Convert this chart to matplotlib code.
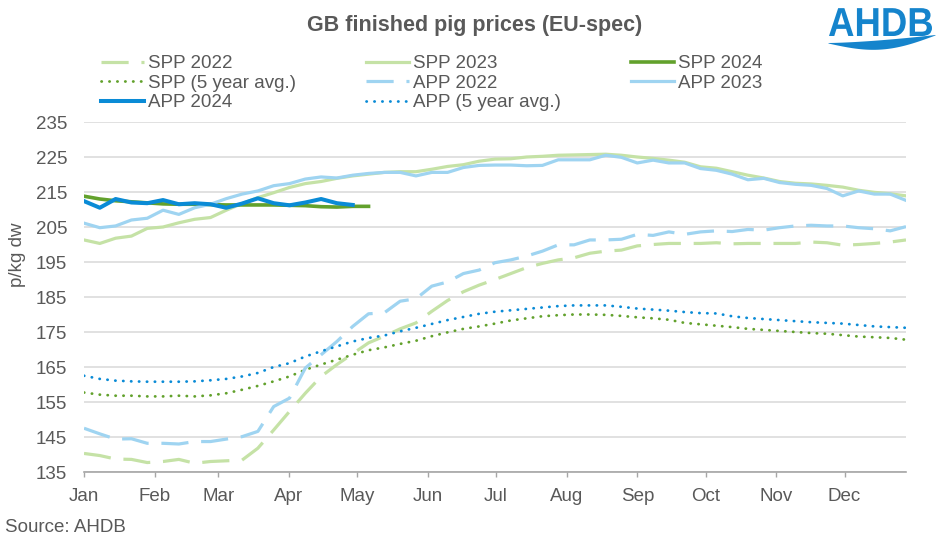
import matplotlib
matplotlib.use("Agg")
import matplotlib.pyplot as plt
import numpy as np
from matplotlib.textpath import TextPath
from matplotlib.patches import PathPatch
from matplotlib.font_manager import FontProperties
from matplotlib.transforms import Affine2D

plt.rcParams["font.family"] = ["Liberation Sans", "DejaVu Sans"]

# weekly prices, p/kg dw
months = ["Jan", "Feb", "Mar", "Apr", "May", "Jun",
          "Jul", "Aug", "Sep", "Oct", "Nov", "Dec"]
month_start_doy = [0, 31, 59, 90, 120, 151, 181, 212, 243, 273, 304, 334]

spp_2022 = [140.3, 139.7, 138.7, 138.6, 137.7, 138.0, 138.6, 137.5, 138.0, 138.2,
            138.4, 141.8, 147.0, 152.3, 157.5, 162.3, 165.7, 168.8, 171.9, 173.8,
            175.9, 177.6, 180.9, 184.0, 186.5, 188.4, 190.0, 191.7, 193.4, 194.6,
            195.6, 196.2, 197.5, 198.1, 198.4, 199.6, 200.0, 200.3, 200.3, 200.3,
            200.5, 200.2, 200.3, 200.3, 200.3, 200.3, 200.7, 200.5, 199.8, 200.0,
            200.3, 200.7, 201.3]
spp_2023 = [201.3, 200.3, 201.8, 202.4, 204.6, 205.0, 206.2, 207.2, 207.7, 209.8,
            211.7, 213.4, 214.8, 216.3, 217.4, 218.0, 218.9, 219.6, 220.1, 220.6,
            220.8, 220.8, 221.5, 222.3, 222.8, 223.8, 224.4, 224.5, 225.0, 225.2,
            225.5, 225.6, 225.7, 225.8, 225.5, 225.0, 224.6, 224.1, 223.5, 222.2,
            221.8, 220.8, 219.8, 219.0, 218.0, 217.5, 217.3, 216.9, 216.4, 215.5,
            214.9, 214.5, 213.9]
spp_2024 = [213.8, 213.0, 212.5, 212.2, 211.9, 211.6, 211.5, 211.5, 211.4, 211.3,
            211.3, 211.3, 211.3, 211.2, 211.1, 210.8, 210.7, 210.9, 210.9]
spp_5yr = [157.7, 157.1, 156.8, 156.8, 156.6, 156.6, 156.8, 156.6, 156.9, 157.5,
           158.5, 159.6, 160.9, 162.3, 164.2, 165.7, 167.1, 168.5, 169.8, 170.6,
           171.6, 172.5, 173.8, 174.9, 175.9, 176.6, 177.4, 178.3, 178.9, 179.5,
           179.8, 180.0, 180.0, 179.9, 179.6, 179.2, 178.9, 178.5, 177.6, 177.2,
           176.8, 176.4, 175.9, 175.6, 175.3, 175.0, 174.7, 174.5, 174.1, 173.7,
           173.5, 173.3, 172.8]
app_2022 = [147.5, 145.9, 144.4, 144.5, 143.2, 143.2, 143.0, 143.7, 143.7, 144.4,
            145.1, 146.6, 153.7, 156.1, 164.7, 168.5, 172.3, 176.6, 180.2, 180.5,
            183.8, 184.5, 188.1, 189.3, 191.7, 192.7, 194.8, 195.6, 196.7, 198.1,
            199.9, 199.9, 201.3, 201.3, 201.5, 202.9, 202.6, 203.6, 202.9, 203.6,
            203.9, 203.7, 204.3, 204.1, 204.8, 205.3, 205.5, 205.3, 205.3, 204.8,
            204.5, 203.9, 205.1]
app_2023 = [206.1, 204.8, 205.3, 207.0, 207.5, 209.8, 208.6, 210.5, 211.5, 213.1,
            214.4, 215.3, 216.8, 217.4, 218.7, 219.3, 219.0, 219.8, 220.3, 220.6,
            220.6, 219.6, 220.6, 220.6, 222.0, 222.6, 222.7, 222.7, 222.5, 222.6,
            224.2, 224.2, 224.2, 225.5, 224.9, 223.3, 224.1, 223.3, 223.3, 221.7,
            221.2, 220.1, 218.5, 218.9, 217.7, 217.2, 216.9, 216.0, 213.9, 215.3,
            214.4, 214.4, 212.6]
app_2024 = [212.4, 210.5, 213.0, 212.0, 211.8, 212.7, 211.5, 211.8, 211.5, 210.5,
            211.7, 213.2, 211.8, 211.2, 212.0, 213.0, 211.8, 211.3]
app_5yr = [162.5, 161.6, 161.1, 160.9, 160.8, 160.8, 160.8, 160.9, 161.2, 161.6,
           162.3, 163.3, 165.0, 166.1, 168.0, 169.5, 170.9, 172.3, 173.3, 174.0,
           175.2, 176.2, 177.3, 178.4, 179.3, 180.2, 180.8, 181.2, 181.6, 182.0,
           182.4, 182.6, 182.6, 182.6, 182.2, 181.7, 181.4, 181.1, 180.7, 180.4,
           180.3, 179.5, 179.0, 178.7, 178.4, 178.1, 177.8, 177.6, 177.4, 177.0,
           176.6, 176.4, 176.2]

GREY = "#595959"
LIGHT_GREEN = "#c5e2a6"
DARK_GREEN = "#62a12c"
LIGHT_BLUE = "#9fd4f1"
BLUE = "#0a8bd6"
LOGO_BLUE = "#1584cc"
W, H = 938, 543

fig = plt.figure(figsize=(W / 100, H / 100), dpi=100)
ax = fig.add_axes([84 / W, 1 - 472 / H, (906 - 84) / W, (472 - 122) / H])

dash = (0, (8.5, 4))
dots = (0, (0.1, 2.75))
series = [
    ("SPP 2022", spp_2022, dict(color=LIGHT_GREEN, lw=2.3, ls=dash)),
    ("SPP 2023", spp_2023, dict(color=LIGHT_GREEN, lw=2.3)),
    ("SPP 2024", spp_2024, dict(color=DARK_GREEN, lw=2.6)),
    ("SPP (5 year avg.)", spp_5yr, dict(color=DARK_GREEN, lw=2.0, ls=dots,
                                        dash_capstyle="round")),
    ("APP 2022", app_2022, dict(color=LIGHT_BLUE, lw=2.3, ls=dash)),
    ("APP 2023", app_2023, dict(color=LIGHT_BLUE, lw=2.3)),
    ("APP 2024", app_2024, dict(color=BLUE, lw=2.9)),
    ("APP (5 year avg.)", app_5yr, dict(color=BLUE, lw=2.0, ls=dots,
                                       dash_capstyle="round")),
]
handles = {}
for label, vals, style in series:
    line, = ax.plot(np.arange(len(vals)), vals, label=label,
                    solid_joinstyle="round", **style)
    handles[label] = line

# axis is a date axis: 52 weekly steps cover ~361 days
step_days = 361 / 52
ax.set_xlim(0, 52)
ax.set_ylim(135, 235)
ax.set_xticks(np.array(month_start_doy) / step_days)
ax.set_xticklabels(months)
ax.set_yticks(np.arange(135, 236, 10))
ax.tick_params(axis="x", length=3.6, width=1, color="#a6a6a6", pad=8,
               labelsize=13.5, labelcolor=GREY)
ax.tick_params(axis="y", length=0, pad=12, labelsize=13.5, labelcolor=GREY)
ax.yaxis.grid(True, color="#d9d9d9", lw=1.1)
ax.set_axisbelow(True)
for s in ["left", "right", "top"]:
    ax.spines[s].set_visible(False)
ax.spines["bottom"].set_color("#a6a6a6")
ax.spines["bottom"].set_linewidth(1.2)

order = ["SPP 2022", "SPP (5 year avg.)", "APP 2024",
         "SPP 2023", "APP 2022", "APP (5 year avg.)",
         "SPP 2024", "APP 2023"]
fig.legend([handles[k] for k in order], order, ncol=3, loc="upper left",
           bbox_to_anchor=(101 / W, 1 - 55 / H), frameon=False, fontsize=13.5,
           labelcolor=GREY, handlelength=2.3, handletextpad=0.2,
           columnspacing=3.75, labelspacing=0.13, borderpad=0, borderaxespad=0)

fig.text(475 / W, 1 - 25 / H, "GB finished pig prices (EU-spec)", ha="center",
         va="center", fontsize=15.5, fontweight="bold", color=GREY)
fig.text(18 / W, 1 - 255 / H, "p/kg dw", rotation=90, ha="center",
         va="center", fontsize=13.5, color=GREY)
fig.text(5 / W, 1 - 528 / H, "Source: AHDB", ha="left", va="center",
         fontsize=13.5, color=GREY)

# logo, drawn in pixel coordinates
logo = fig.add_axes([0, 0, 1, 1], zorder=-1)
logo.set_xlim(0, W)
logo.set_ylim(H, 0)
logo.axis("off")
tp = TextPath((0, 0), "AHDB", size=1,
              prop=FontProperties(family="Liberation Sans", weight="bold"))
ext = tp.get_extents()
sx = 103 / ext.width
sy = 29 / 0.716
logo.add_patch(PathPatch(tp, color=LOGO_BLUE, lw=0,
                         transform=Affine2D().translate(-ext.x0, 0)
                         .scale(sx, -sy).translate(829, 36) + logo.transData))
t = np.linspace(0, 1, 80)
xs = 828 + 107 * t
logo.fill_between(xs, 42.5 - 8 * t ** 1.5,
                  43 + 10 * np.sin(np.pi * t) - 8 * t,
                  color=LOGO_BLUE, lw=0)

fig.savefig("out.png", dpi=100)
